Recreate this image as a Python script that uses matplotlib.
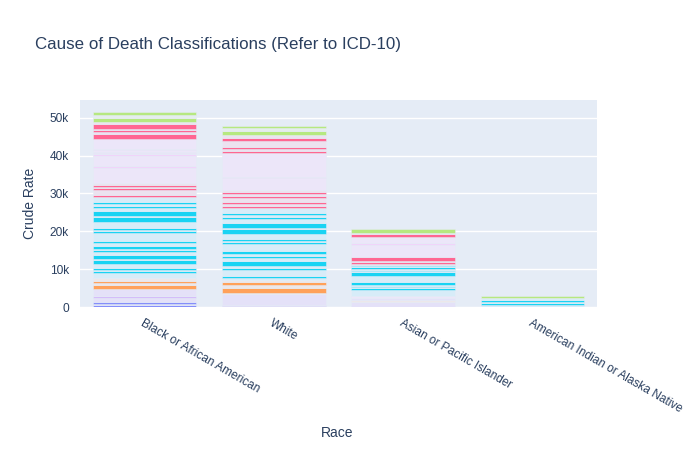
import matplotlib
matplotlib.use("Agg")
import matplotlib.pyplot as plt
import matplotlib.colors as mcolors
import matplotlib.ticker as ticker

# Races on the x axis
RACES = ["Black or African American", "White", "Asian or Pacific Islander",
         "American Indian or Alaska Native"]

# Stacked segments, bottom to top: crude rate of each segment and its colour code
# (upper case = clearly visible stripe, lower case = faint band of tiny segments)
BLACK_RATES = [400, 400, 400, 1300, 530, 1720, 1060, 530, 660, 660,
               1320, 660, 260, 400, 1060, 1190, 260, 1060, 660, 530,
               260, 790, 930, 400, 2120, 530, 260, 400, 1720, 1320,
               260, 1320, 790, 530, 530, 530, 1320, 530, 1320, 530,
               260, 400, 660, 3970, 530, 2650, 400, 260, 400, 400,
               400, 2650, 1190, 660, 530, 260, 1190, 660, 1060, 790, 660]
BLACK_CODES = list("BbBlLlOoOo" "cCcCcCcCcC" "cCcCcCcCcC" "cCcCcCcPpP"
                   "pPpmMmMmMm" "MmPpPpPpGgG")

WHITE_RATES = [260, 400, 2780, 260, 1320, 790, 790, 530, 530, 530,
               1590, 530, 400, 1320, 930, 530, 530, 660, 1980, 530,
               260, 400, 1320, 1320, 400, 1320, 1060, 530, 530, 530,
               1320, 530, 530, 400, 1190, 530, 400, 530, 660, 3180,
               260, 6350, 400, 660, 400, 1720, 660, 930, 1060, 790, 530]
WHITE_CODES = list("lLloOoOocC" "cCcCcCcCcC" "cCcCcCcCcC" "cPpPpPpPpm"
                   "MmPpPpPpGgG")

ASIAN_RATES = [1320, 400, 660, 530, 1590, 400, 260, 400, 260, 790,
               1590, 1060, 130, 400, 260, 400, 260, 400, 260, 400,
               400, 1060, 3180, 400, 1720, 660, 400, 1060]
ASIAN_CODES = list("lolmcCcCcC" "cCcCcCcCpP" "pPmMmPpG")

NATIVE_RATES = [400, 530, 400, 400, 660, 400]
NATIVE_CODES = list("cCcCcG")

SEGMENTS = [(BLACK_RATES, BLACK_CODES), (WHITE_RATES, WHITE_CODES),
            (ASIAN_RATES, ASIAN_CODES), (NATIVE_RATES, NATIVE_CODES)]

BASE_COLORS = {"B": "#636efa", "L": "#ab63fa", "O": "#FFA15A", "C": "#19d3f3",
               "P": "#FF6692", "M": "#FF97FF", "G": "#B6E880"}
# how much of the colour shows through (thin stripes look washed out)
STRENGTH = {"B": 0.75, "L": 0.35, "O": 1.0, "C": 1.0, "P": 1.0, "M": 0.3,
            "G": 1.0}

BG = "#E5ECF6"
TEXT = "#2a3f5f"


def seg_color(code):
    base = mcolors.to_rgb(BASE_COLORS[code.upper()])
    pale = mcolors.to_rgb("#eaeef8")
    k = STRENGTH[code.upper()] if code.isupper() else 0.09
    return tuple(k * b + (1 - k) * p for b, p in zip(base, pale))


plt.rcParams["font.family"] = ["Liberation Sans", "DejaVu Sans"]

fig = plt.figure(figsize=(7, 4.5), dpi=100)
ax = fig.add_axes([80 / 700, 1 - 307 / 450, 517 / 700, 207 / 450])
ax.set_facecolor(BG)

for i, (rates, codes) in enumerate(SEGMENTS):
    bottom = 0
    for r, c in zip(rates, codes):
        ax.bar(i, r, bottom=bottom, width=0.8, color=seg_color(c),
               edgecolor=BG, linewidth=0.36, zorder=3)
        bottom += r

ax.set_xlim(-0.5, 3.5)
ax.set_ylim(0, 54700)
ax.yaxis.set_major_locator(ticker.MultipleLocator(10000))
ax.yaxis.set_major_formatter(ticker.FuncFormatter(
    lambda v, _: "0" if v == 0 else f"{int(v / 1000)}k"))
ax.grid(axis="y", color="white", linewidth=1.0, zorder=1)
ax.set_axisbelow(True)
for s in ax.spines.values():
    s.set_visible(False)

ax.set_xticks(range(len(RACES)))
ax.set_xticklabels(RACES, rotation=-30, ha="left", va="top",
                   rotation_mode="anchor", fontsize=8.6, color=TEXT)
ax.tick_params(axis="both", length=0, labelsize=8.6, labelcolor=TEXT)
ax.tick_params(axis="x", pad=7)
ax.tick_params(axis="y", pad=8)

fig.text(35 / 700, 1 - 44 / 450, "Cause of Death Classifications (Refer to ICD-10)",
         fontsize=12.2, color=TEXT, va="center", ha="left")
fig.text(30 / 700, 1 - 203 / 450, "Crude Rate", rotation=90, fontsize=10,
         color=TEXT, va="center", ha="center")
fig.text(337 / 700, 1 - 433 / 450, "Race", fontsize=10, color=TEXT,
         va="center", ha="center")

fig.savefig("out.png", dpi=100, facecolor="white")
